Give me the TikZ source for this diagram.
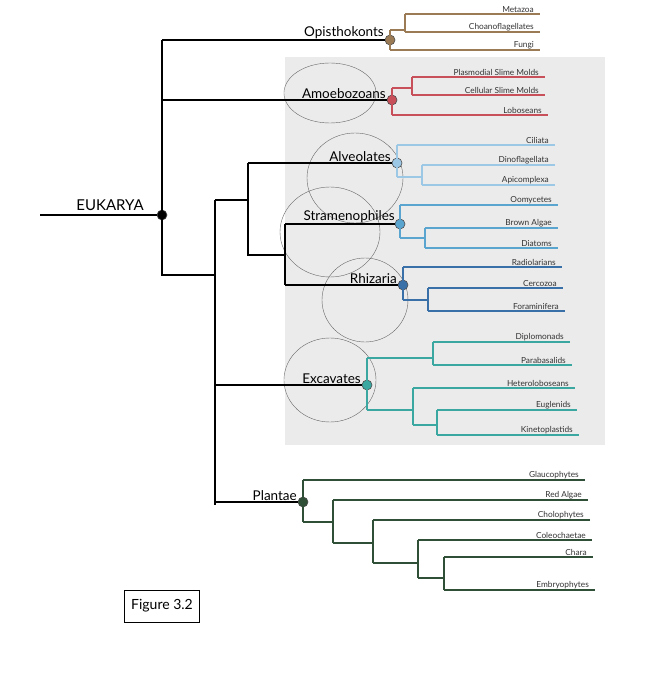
\documentclass[tikz,border=0pt]{standalone}
\usepackage{fontspec}
\setmainfont{Lato}
\definecolor{cbrown}{HTML}{9A7B55}
\definecolor{cred}{HTML}{C8505A}
\definecolor{clb}{HTML}{9CC8E6}
\definecolor{cmb}{HTML}{5AA5D0}
\definecolor{cdb}{HTML}{3A70A8}
\definecolor{cteal}{HTML}{3AA8A0}
\definecolor{cgreen}{HTML}{2F4F36}
\begin{document}
\begin{tikzpicture}[x=1pt,y=-1pt,
 trunk/.style={line width=2pt,black},
 br/.style={line width=1.8pt},
 dot/.style={circle,draw=black!70,line width=0.6pt,minimum size=10pt,inner sep=0pt},
 grp/.style={font=\fontsize{13.5}{13.5}\selectfont,anchor=south east,inner sep=1pt},
 leaf/.style={font=\fontsize{8.3}{9}\selectfont,anchor=south east,inner sep=1pt,text=black!80},
 pencil/.style={draw=black!60,line width=0.4pt}]
\fill[white] (0,0) rectangle (646,700);
\useasboundingbox (0,0) rectangle (646,700);
\fill[black!8] (285,57) rectangle (605,445);
% pencil
\draw[pencil] (330,93) ellipse [x radius=46,y radius=30];
\draw[pencil] (355,178) ellipse [x radius=48,y radius=45];
\draw[pencil] (330,232) ellipse [x radius=50,y radius=45];
\draw[pencil] (365,300) ellipse [x radius=43,y radius=42];
\draw[pencil] (330,380) ellipse [x radius=46,y radius=42];
% trunk
\coordinate (e0) at (40,215);
\node[dot,fill=black] (euk) at (162,215) {};
\node[font=\fontsize{15}{15}\selectfont,anchor=south] at (110,214) {EUKARYA};
\draw[trunk] (e0) -- (euk);
\draw[trunk] (162,40) -- (162,275) -- (215,275);
\draw[trunk] (215,200) -- (215,505);
\draw[trunk] (215,200) -- (248,200);
\draw[trunk] (248,163) -- (248,255) -- (285,255);
\draw[trunk] (285,224) -- (285,285);
\node[dot,fill=cbrown] (opi) at (390,40) {};
\node[dot,fill=cred] (amo) at (392,100) {};
\node[dot,fill=clb] (alv) at (397,163) {};
\node[dot,fill=cmb] (str) at (400,224) {};
\node[dot,fill=cdb] (rhi) at (403,285) {};
\node[dot,fill=cteal] (exc) at (367,385) {};
\node[dot,fill=cgreen] (pla) at (303,502) {};
\draw[trunk] (162,40) -- (opi);
\draw[trunk] (162,100) -- (amo);
\draw[trunk] (248,163) -- (alv);
\draw[trunk] (285,224) -- (str);
\draw[trunk] (285,285) -- (rhi);
\draw[trunk] (215,385) -- (exc);
\draw[trunk] (215,502) -- (pla);
\node[grp] at (385,40) {Opisthokonts};
\node[grp] at (387,100) {Amoebozoans};
\node[grp] at (392,163) {Alveolates};
\node[grp] at (396,224) {Stramenophiles};
\node[grp] at (398,285) {Rhizaria};
\node[grp] at (362,385) {Excavates};
\node[grp] at (298,502) {Plantae};
% Opisthokonts
\begin{scope}[br,cbrown]
\draw (390,30) -- (390,50);
\draw (390,30) -- (405,30); \draw (405,14) -- (405,32);
\draw (405,14) -- (540,14); \draw (405,32) -- (540,32); \draw (390,50) -- (540,50);
\end{scope}
\node[leaf] at (535,14) {Metazoa};
\node[leaf] at (535,32) {Choanoflagellates};
\node[leaf] at (535,50) {Fungi};
% Amoebozoans
\begin{scope}[br,cred]
\draw (392,88) -- (392,115); \draw (392,88) -- (412,88); \draw (412,77) -- (412,95);
\draw (412,77) -- (545,77); \draw (412,95) -- (545,95); \draw (392,115) -- (548,115);
\end{scope}
\node[leaf] at (540,77) {Plasmodial Slime Molds};
\node[leaf] at (540,95) {Cellular Slime Molds};
\node[leaf] at (543,115) {Loboseans};
% Alveolates
\begin{scope}[br,clb]
\draw (397,145) -- (397,177); \draw (397,145) -- (555,145); \draw (397,177) -- (422,177);
\draw (422,165) -- (422,185); \draw (422,165) -- (555,165); \draw (422,185) -- (555,185);
\end{scope}
\node[leaf] at (550,145) {Ciliata};
\node[leaf] at (550,165) {Dinoflagellata};
\node[leaf] at (550,185) {Apicomplexa};
% Stramenophiles
\begin{scope}[br,cmb]
\draw (400,205) -- (400,238); \draw (400,205) -- (558,205); \draw (400,238) -- (425,238);
\draw (425,228) -- (425,248); \draw (425,228) -- (558,228); \draw (425,248) -- (558,248);
\end{scope}
\node[leaf] at (553,205) {Oomycetes};
\node[leaf] at (553,228) {Brown Algae};
\node[leaf] at (553,248) {Diatoms};
% Rhizaria
\begin{scope}[br,cdb]
\draw (403,267) -- (403,300); \draw (403,267) -- (562,267); \draw (403,300) -- (428,300);
\draw (428,288) -- (428,311); \draw (428,288) -- (563,288); \draw (428,311) -- (565,311);
\end{scope}
\node[leaf] at (557,267) {Radiolarians};
\node[leaf] at (558,288) {Cercozoa};
\node[leaf] at (560,311) {Foraminifera};
% Excavates
\begin{scope}[br,cteal]
\draw (367,358) -- (367,410); \draw (367,358) -- (433,358);
\draw (433,342) -- (433,365); \draw (433,342) -- (570,342); \draw (433,365) -- (572,365);
\draw (367,410) -- (413,410); \draw (413,388) -- (413,425); \draw (413,388) -- (575,388);
\draw (413,425) -- (437,425); \draw (437,410) -- (437,435);
\draw (437,410) -- (577,410); \draw (437,435) -- (579,435);
\end{scope}
\node[leaf] at (565,342) {Diplomonads};
\node[leaf] at (567,365) {Parabasalids};
\node[leaf] at (570,388) {Heteroloboseans};
\node[leaf] at (572,410) {Euglenids};
\node[leaf] at (574,435) {Kinetoplastids};
% Plantae
\begin{scope}[br,cgreen]
\draw (303,480) -- (303,522); \draw (303,480) -- (585,480); \draw (303,522) -- (333,522);
\draw (333,500) -- (333,543); \draw (333,500) -- (588,500); \draw (333,543) -- (373,543);
\draw (373,520) -- (373,563); \draw (373,520) -- (590,520); \draw (373,563) -- (418,563);
\draw (418,540) -- (418,578); \draw (418,540) -- (592,540); \draw (418,578) -- (444,578);
\draw (444,557) -- (444,590); \draw (444,557) -- (593,557); \draw (444,590) -- (595,590);
\end{scope}
\node[leaf] at (580,480) {Glaucophytes};
\node[leaf] at (583,500) {Red Algae};
\node[leaf] at (585,520) {Cholophytes};
\node[leaf] at (587,540) {Coleochaetae};
\node[leaf] at (588,557) {Chara};
\node[leaf] at (590,590) {Embryophytes};
\node[draw,line width=0.6pt,minimum width=75pt,minimum height=32pt,font=\fontsize{14}{14}\selectfont] (fig) at (162,606) {Figure 3.2};
\end{tikzpicture}
\end{document}
